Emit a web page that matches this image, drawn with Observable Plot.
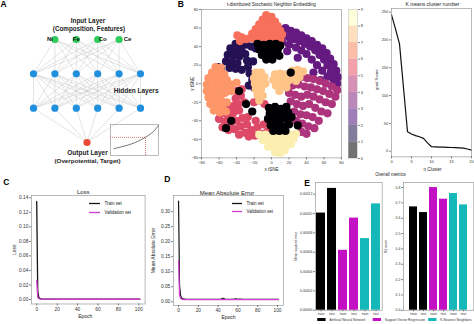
<!DOCTYPE html>
<html><head><meta charset="utf-8">
<script src="https://cdn.jsdelivr.net/npm/d3@7"></script>
<script src="https://cdn.jsdelivr.net/npm/@observablehq/plot@0.6"></script>
<style>body{margin:0;background:#fff}#root{position:relative;width:474px;height:324px;overflow:hidden;background:#fff}</style>
</head><body><div id="root"></div>
<script>
// ---------- DATA ----------
// A: network
const inputLabels = ["Ni","Fe","Co","Ce"];
const layerSizes = [4, 6, 6, 1];
const insetX = [0.07,0.2,0.35,0.5,0.65,0.8,0.9,1.0];
const insetY = [0.22,0.27,0.33,0.41,0.52,0.66,0.78,0.97];
const targetX = [0.73];
const targetY = [0.585];

// B: t-SNE clusters [x, y] and grad score level of each cluster
const tsneNavy = [[-41,43],[-35,42],[-29,42],[-23,40],[-18,38],[-47,38],[-41,36],[-34,35],[-50,31],[-44,30],[-37,29],[-30,32],[-52,24],[-45,23],[-39,22],[-28,25],[-48,17],[-41,16],[-34,15],[-27,18],[-25,11],[-22,4],[-26,-2],[-20,-4],[-61,18],[-58,16],[-21,24]];
const tsnePurple = [[10,58],[16,60],[22,57],[28,55],[34,52],[40,49],[46,46],[52,42],[58,38],[63,33],[67,27],[71,21],[74,14],[76,7],[75,0],[70,-2],[14,52],[20,50],[26,48],[32,46],[38,43],[44,40],[50,36],[55,31],[60,26],[64,20],[68,13],[70,6],[64,8],[58,14],[52,20],[46,26],[40,32],[34,36],[28,39],[20,42],[12,45],[8,40],[18,35],[48,12],[56,4],[30,28]];
const tsneMagenta = [[20,4],[27,6],[34,7],[41,6],[48,5],[55,3],[62,0],[69,-3],[75,-7],[17,-3],[24,-2],[31,-1],[38,-3],[45,-4],[52,-6],[59,-8],[66,-11],[73,-14],[20,-10],[27,-12],[34,-14],[41,-12],[48,-14],[55,-17],[62,-20],[69,-22],[22,-19],[29,-22],[36,-24],[43,-22],[50,-26],[57,-30],[64,-32],[26,-30],[33,-33],[40,-34],[47,-36],[54,-40],[28,-40],[35,-43],[42,-46],[49,-48],[34,-52],[40,-54]];
const tsnePink = [[-41,-16],[-35,-13],[-40,-8],[-34,-6],[-38,-22],[-31,-20],[-49,-26],[-43,-24],[-57,-32],[-50,-34],[-44,-32],[-37,-29],[-60,-38],[-53,-41],[-47,-43],[-40,-40],[-33,-37],[-56,-47],[-49,-50],[-42,-49],[-35,-46],[-28,-44],[-37,-55],[-30,-53],[-23,-50],[-16,-47],[-9,-44],[-2,-42],[-26,-57],[-19,-56],[-12,-54],[-5,-52],[2,-55],[-20,-20],[-14,-18],[-8,-22],[-27,-36],[-18,-40]];
const tsneOrange = [[-64,18],[-58,17],[-68,12],[-61,11],[-54,10],[-72,6],[-65,5],[-58,4],[-51,4],[-74,-1],[-67,-2],[-60,-2],[-53,-3],[-46,-1],[-40,1],[-74,-8],[-67,-9],[-60,-9],[-53,-10],[-46,-8],[-72,-15],[-65,-16],[-58,-17],[-51,-20],[-70,-22],[-63,-23],[-56,-25],[-66,-29],[-59,-31],[-52,-30]];
const tsnePeach = [[-18,12],[-12,12],[-20,6],[-14,6],[-8,7],[-19,0],[-13,0],[-7,0],[-18,-6],[-12,-6],[-16,-12],[-10,-13],[-14,-18],[4,10],[10,11],[16,10],[2,4],[8,4],[14,4],[19,3],[5,-2],[11,-3],[17,-4],[9,-8],[24,14],[30,15],[36,13],[26,8],[32,7],[28,3]];
const tsneSalmon = [[-6,74],[0,72],[-10,69],[-3,68],[4,67],[-14,64],[-7,63],[0,62],[7,62],[-18,59],[-11,58],[-4,57],[3,57],[10,57],[-22,54],[-15,53],[-8,52],[-1,52],[6,52],[12,53],[-25,49],[-18,48],[-10,47],[-3,47],[4,47],[10,48],[-39,52],[-34,50],[-29,48],[-36,46]];
const tsneYellow = [[-14,-55],[-7,-55],[0,-56],[7,-57],[14,-56],[21,-55],[28,-54],[-10,-61],[-3,-62],[4,-63],[11,-62],[18,-61],[25,-60],[-4,-68],[3,-69],[10,-68],[17,-67],[22,-65],[4,-74],[10,-75],[15,-72]];
const tsneBlack = [[-16,43],[-9,42],[-2,43],[5,43],[10,41],[-14,37],[-7,36],[0,37],[7,36],[-11,31],[-4,30],[3,31],[9,30],[-6,26],[1,26],[-3,-26],[4,-25],[11,-27],[17,-25],[-2,-32],[5,-32],[12,-33],[19,-31],[-4,-38],[3,-39],[10,-39],[17,-38],[23,-36],[-1,-45],[6,-45],[13,-46],[20,-44],[2,-51],[9,-51],[16,-51],[-46,-40],[-29,-22],[-22,-30],[-52,-48],[30,-45],[-37,-8],[22,12]];
const clusterLevels = [1.35, 2.7, 4.3, 5.4, 7.0, 7.9, 6.3, 8.7, 0];
const colorbarBands = [0,1,2,3,4,5,6,7,8];
const colorbarTicks = [0,1,2,3,4,5,6,7,8,9];

// K-means
const kClusters = [0,1,2,3,4,5,6,7,8,9,10,11,12,13,14,15,16,17,18,19,20];
const kScores = [245,220,193,114,35,31,28,26,23,15,8,7.8,7.5,7.2,7,6.7,6.4,6,5.6,4,2];

// C: loss
const lossEpochs = [0,1,2,3,4,5,8,12,20,40,60,80,101];
const trainLoss = [0.135,0.012,0.003,0.0015,0.001,0.0008,0.0006,0.0005,0.0004,0.0004,0.0004,0.0004,0.0004];
const valLoss = [0.026,0.003,0.0012,0.0008,0.0006,0.0005,0.0004,0.0004,0.0003,0.0003,0.0003,0.0003,0.0003];

// D: MAE
const maeEpochs = [0,1,2,3,4,5,7,10,15,20,25,30,35,40,43,45,47,50,55,58,60,62,65,70,75,80,85,90,95,101];
const trainMae = [0.335,0.055,0.022,0.014,0.011,0.010,0.009,0.0085,0.008,0.0085,0.008,0.0082,0.008,0.0085,0.009,0.012,0.009,0.0085,0.008,0.010,0.008,0.0095,0.008,0.0085,0.008,0.0083,0.008,0.0085,0.008,0.008];
const valMae = [0.137,0.022,0.012,0.009,0.008,0.0075,0.007,0.007,0.007,0.0072,0.007,0.007,0.0071,0.007,0.0075,0.008,0.0072,0.007,0.007,0.0074,0.007,0.0072,0.007,0.007,0.0071,0.007,0.007,0.0072,0.007,0.007];
const seriesNames = ["Train set","Validation set"];

// E: overall metrics
const models = ["Artificial Neural Network","Support Vector Regression","K-Nearest Neighbors"];
const splits = ["train","test"];
const mseValues = [0.0001005,0.000126,0.000062,0.0000953,0.0000741,0.00011];
const r2Values = [0.674,0.637,0.80,0.724,0.761,0.687];

// ---------- STYLE / HELPERS ----------
const FONT = "'Liberation Sans', Arial, Helvetica, sans-serif";
const seriesColors = ["#161616","#d43ccf"];
const modelColors = ["#000000","#c410c4","#14b8b8"];
const layerColors = ["#2fcc5c","#1f8fde","#1f8fde","#ec4a38"];
const root = document.getElementById("root");
function mount(frame, m, spec, fontSize) {
  const width = frame.r - frame.l + m.l + m.r;
  const height = frame.b - frame.t + m.t + m.b;
  const svg = Plot.plot({...spec, width, height,
    marginLeft: m.l, marginRight: m.r, marginTop: m.t, marginBottom: m.b,
    style: {fontFamily: FONT, fontSize: fontSize + "px", color: "#333", background: "transparent", overflow: "visible"}});
  svg.style.position = "absolute";
  svg.style.left = (frame.l - m.l) + "px";
  svg.style.top = (frame.t - m.t) + "px";
  root.appendChild(svg);
  return svg;
}
const fr = () => Plot.frame({stroke: "#9a9a9a", strokeWidth: 0.7});
const ax = (o) => Plot.axisX({tickSize: 2, tickPadding: 1.2, label: null, strokeWidth: 0.6, ...o});
const ay = (o) => Plot.axisY({tickSize: 2, tickPadding: 1.2, label: null, strokeWidth: 0.6, ...o});
const txt = (s, o) => Plot.text([s], {textAnchor: "middle", lineAnchor: "middle", fill: "#222", ...o});
const letter = (s, dx, dy) => txt(s, {frameAnchor: "top-left", dx, dy, fontSize: 8.5, fontWeight: "bold", fill: "#000"});

// ---------- A: network ----------
const maxSize = d3.max(layerSizes);
const nodes = layerSizes.flatMap((n, L) => d3.range(n).map(i => ({layer: L, pos: (maxSize - n) / 2 + i, i})));
const links = [];
for (let L = 0; L < layerSizes.length - 1; L++) {
  for (const a of nodes.filter(d => d.layer === L))
    for (const b of nodes.filter(d => d.layer === L + 1))
      links.push({x1: a.pos, y1: a.layer, x2: b.pos, y2: b.layer});
}
const inputNodes = nodes.filter(d => d.layer === 0);
const labelDx = [-5, 0, 5, 8.5];
mount({l: 33, t: 39, r: 140, b: 142}, {l: 33, t: 39, r: 34, b: 30}, {
  x: {domain: [0, 5], axis: null},
  y: {domain: [0, layerSizes.length - 1], reverse: true, axis: null},
  marks: [
    Plot.link(links, {x1: "x1", y1: "y1", x2: "x2", y2: "y2", stroke: "#c8c8c8", strokeWidth: 0.5}),
    Plot.dot(nodes, {x: "pos", y: "layer", r: 3.6, fill: d => layerColors[d.layer]}),
    ...inputLabels.map((s, i) => Plot.text([inputNodes[i]], {x: "pos", y: "layer", text: () => s, dx: labelDx[i], fontSize: 6, fontWeight: "bold", fill: "#111", textAnchor: "middle", lineAnchor: "middle"})),
    txt("Input Layer", {frameAnchor: "top", dx: 1, dy: -19, fontSize: 6.4, fontWeight: "bold"}),
    txt("(Composition, Features)", {frameAnchor: "top", dx: 2, dy: -11, fontSize: 6.3, fontWeight: "bold"}),
    txt("Hidden Layers", {frameAnchor: "top-right", dx: 18, dy: 51, textAnchor: "end", fontSize: 6.5, fontWeight: "bold"}),
    txt("Output Layer", {frameAnchor: "bottom", dx: 0.5, dy: 10, fontSize: 6.5, fontWeight: "bold"}),
    txt("(Overpotential, Target)", {frameAnchor: "bottom", dx: 0.5, dy: 19, fontSize: 6.2, fontWeight: "bold"}),
    letter("A", -30, -35.5)
  ]
}, 6);
// inset
mount({l: 110, t: 124, r: 158, b: 155}, {l: 1, t: 1, r: 1, b: 1}, {
  x: {domain: [0, 1], axis: null}, y: {domain: [0, 1], axis: null},
  marks: [
    Plot.frame({stroke: "#8a8a8a", strokeWidth: 0.6}),
    Plot.ruleY(targetY.map((y, i) => ({x: targetX[i], y})), {y: "y", x1: () => 0, x2: "x", stroke: "#d23a3a", strokeWidth: 0.7, strokeDasharray: "1,1"}),
    Plot.ruleX(targetX.map((x, i) => ({x, y: targetY[i]})), {x: "x", y1: () => 0, y2: "y", stroke: "#d23a3a", strokeWidth: 0.7, strokeDasharray: "1,1"}),
    Plot.lineY(insetY, {x: insetX, stroke: "#555", strokeWidth: 0.8, curve: "monotone-x"})
  ]
}, 4);

// ---------- B: t-SNE ----------
const clusterSets = [tsneNavy, tsnePurple, tsneMagenta, tsnePink, tsneOrange, tsnePeach, tsneSalmon, tsneYellow, tsneBlack];
const tsnePoints = clusterSets.flatMap((pts, k) => pts.map(([x, y]) => ({x, y, level: clusterLevels[k]})));
const tsneTicks = [-80,-60,-40,-20,0,20,40,60,80];
mount({l: 200.7, t: 9.3, r: 340.7, b: 157.7}, {l: 22, t: 10, r: 4, b: 16}, {
  x: {domain: [-80, 80]}, y: {domain: [-80, 80]},
  color: {type: "linear", scheme: "magma", domain: [0, 9]},
  marks: [
    Plot.dot(tsnePoints, {x: "x", y: "y", fill: "level", r: 4.1}),
    fr(),
    ax({ticks: tsneTicks}), ay({ticks: tsneTicks}),
    txt("t-distributed Stochastic Neighbor Embedding", {frameAnchor: "top", dy: -5, fontSize: 4.5}),
    txt("x tSNE", {frameAnchor: "bottom", dy: 12, fontSize: 4.5}),
    txt("y tSNE", {frameAnchor: "left", dx: -9, rotate: -90, fontSize: 4.5}),
    letter("B", -20.7, -4.8)
  ]
}, 4);
// colorbar
mount({l: 348, t: 8.5, r: 357, b: 157.5}, {l: 1, t: 2, r: 8, b: 2}, {
  x: {domain: [0, 1], axis: null}, y: {domain: [0, 9]},
  color: {type: "linear", scheme: "magma", domain: [0, 9]},
  marks: [
    Plot.rect(colorbarBands, {x1: () => 0, x2: () => 1, y1: d => d, y2: d => d + 1, fill: d => d * 9 / 8, fillOpacity: 0.55}),
    Plot.frame({stroke: "#bbb", strokeWidth: 0.5}),
    ay({anchor: "right", ticks: colorbarTicks})
  ]
}, 4);

// ---------- K-means ----------
mount({l: 390.7, t: 8.3, r: 470.7, b: 156.7}, {l: 16, t: 10, r: 4, b: 16}, {
  x: {domain: [0, 20]}, y: {domain: [-10.2, 256.5]},
  marks: [
    Plot.lineY(kScores, {x: kClusters, stroke: "#111", strokeWidth: 1.2}),
    fr(),
    ax({ticks: [0, 5, 10, 15, 20]}), ay({ticks: [0, 50, 100, 150, 200, 250]}),
    txt("K means cluster number", {frameAnchor: "top", dx: 1, dy: -4.3, fontSize: 5}),
    txt("n Cluster", {frameAnchor: "bottom", dx: 1, dy: 12.8, fontSize: 4.5}),
    txt("grad Score", {frameAnchor: "left", dx: -14.7, dy: -3, rotate: -90, fontSize: 4.2})
  ]
}, 4);

// ---------- C: Loss ----------
function lineLegend(x0, x1, y0, y1, fs) {
  mount({l: x0, t: y0, r: x1, b: y1}, {l: 1, t: 3, r: 40, b: 3}, {
    x: {domain: [0, 1], axis: null},
    y: {type: "point", domain: seriesNames, padding: 0, axis: null},
    marks: [
      Plot.ruleY(seriesNames, {y: d => d, x1: () => 0, x2: () => 1, stroke: (d, i) => seriesColors[seriesNames.indexOf(d)], strokeWidth: 1.3}),
      Plot.text(seriesNames, {y: d => d, x: () => 1, dx: 4, textAnchor: "start", lineAnchor: "middle", fill: "#222", fontSize: fs})
    ]
  }, fs);
}
mount({l: 30.7, t: 195, r: 144.3, b: 303.5}, {l: 22, t: 14, r: 4, b: 16}, {
  x: {domain: [-5.1, 106.1]}, y: {domain: [-0.0062, 0.1432]},
  marks: [
    Plot.lineY(trainLoss, {x: lossEpochs, stroke: seriesColors[0], strokeWidth: 1.3}),
    Plot.lineY(valLoss, {x: lossEpochs, stroke: seriesColors[1], strokeWidth: 1.3}),
    fr(),
    ax({ticks: [0, 20, 40, 60, 80, 100]}),
    ay({ticks: [0, 0.02, 0.04, 0.06, 0.08, 0.10, 0.12, 0.14], tickFormat: d3.format(".2f")}),
    txt("Loss", {frameAnchor: "top", dx: -5, dy: -3.5, fontSize: 6}),
    txt("Epoch", {frameAnchor: "bottom", dx: -3, dy: 12.5, fontSize: 5}),
    txt("Loss", {frameAnchor: "left", dx: -17.5, rotate: -90, fontSize: 5}),
    letter("C", -25.2, -13.5)
  ]
}, 4.8);
lineLegend(89, 100, 203.3, 212.7, 4.5);

// ---------- D: MAE ----------
mount({l: 173.3, t: 195, r: 283.3, b: 305}, {l: 22, t: 14, r: 4, b: 16}, {
  x: {domain: [-5.1, 106.1]}, y: {domain: [-0.0122, 0.3534]},
  marks: [
    Plot.lineY(trainMae, {x: maeEpochs, stroke: seriesColors[0], strokeWidth: 1.2}),
    Plot.lineY(valMae, {x: maeEpochs, stroke: seriesColors[1], strokeWidth: 1.2}),
    fr(),
    ax({ticks: [0, 20, 40, 60, 80, 100]}),
    ay({ticks: [0, 0.05, 0.10, 0.15, 0.20, 0.25, 0.30], tickFormat: d3.format(".2f")}),
    txt("Mean Absolute Error", {frameAnchor: "top", dx: -1.5, dy: -2.5, fontSize: 6}),
    txt("Epoch", {frameAnchor: "bottom", dx: 0, dy: 11.7, fontSize: 5}),
    txt("Mean Absolute Error", {frameAnchor: "left", dx: -20, rotate: -90, fontSize: 5}),
    letter("D", -6.3, -16.5)
  ]
}, 4.8);
lineLegend(231.7, 241.7, 203.3, 211.7, 4.5);

// ---------- E: overall metrics ----------
const barKeys = models.flatMap(m => splits.map(s => m + "|" + s));
const barData = barKeys.map((k, i) => ({key: k, model: k.split("|")[0], mse: mseValues[i], r2: r2Values[i]}));
const splitFmt = k => k.split("|")[1];
mount({l: 315, t: 181.7, r: 381.7, b: 309.5}, {l: 20, t: 10, r: 4, b: 10}, {
  x: {type: "band", domain: barKeys, paddingInner: 0.18, paddingOuter: 0.1},
  y: {domain: [0, 0.0001321]},
  color: {type: "ordinal", domain: models, range: modelColors},
  marks: [
    Plot.barY(barData, {x: "key", y: "mse", fill: "model"}),
    fr(),
    ax({tickFormat: splitFmt, tickSize: 1.5}),
    ay({ticks: [0, 0.00002, 0.00004, 0.00006, 0.00008, 0.0001, 0.00012], tickFormat: d3.format(".5f")}),
    txt("Overall metrics", {frameAnchor: "top-right", dx: 8.3, dy: -7.5, fontSize: 4.6}),
    txt("Mean squared error", {frameAnchor: "left", dx: -20, rotate: -90, fontSize: 3.3}),
    letter("E", -8.5, 0.3)
  ]
}, 3.4);
mount({l: 402.7, t: 181.7, r: 473, b: 309.5}, {l: 14, t: 10, r: 2, b: 10}, {
  x: {type: "band", domain: barKeys, paddingInner: 0.18, paddingOuter: 0.3},
  y: {domain: [0, 0.833]},
  color: {type: "ordinal", domain: models, range: modelColors},
  marks: [
    Plot.barY(barData, {x: "key", y: "r2", fill: "model"}),
    fr(),
    ax({tickFormat: splitFmt, tickSize: 1.5}),
    ay({ticks: [0, 0.1, 0.2, 0.3, 0.4, 0.5, 0.6, 0.7, 0.8], tickFormat: d3.format(".1f")}),
    txt("R2 score", {frameAnchor: "left", dx: -17.7, rotate: -90, fontSize: 3.3})
  ]
}, 3.4);
// E legend
const legendItems = models.map((m, i) => ({m, i}));
mount({l: 316.7, t: 318.2, r: 483.5, b: 321.2}, {l: 1, t: 1, r: 1, b: 1}, {
  x: {domain: [0, 3], axis: null}, y: {domain: [0, 1], axis: null},
  color: {type: "ordinal", domain: models, range: modelColors},
  marks: [
    Plot.rect(legendItems, {x1: d => d.i, x2: d => d.i + 0.15, y1: () => 0, y2: () => 1, fill: "m"}),
    Plot.text(legendItems, {x: d => d.i + 0.21, y: () => 0.5, text: "m", textAnchor: "start", lineAnchor: "middle", fill: "#333", fontSize: 3.4})
  ]
}, 3.4);
</script></body></html>
